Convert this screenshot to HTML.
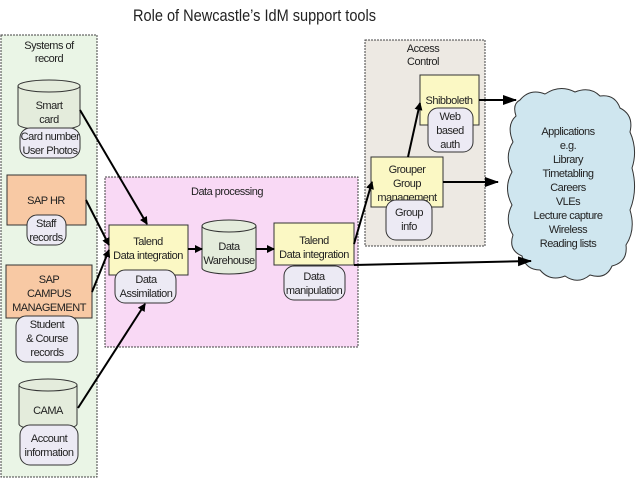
<!DOCTYPE html>
<html><head><meta charset="utf-8"><style>
html,body{margin:0;padding:0;background:#fff}
svg text{font-family:"Liberation Sans",sans-serif;fill:#222;letter-spacing:-0.5px}
</style></head><body>
<svg width="638" height="478" viewBox="0 0 638 478" xmlns="http://www.w3.org/2000/svg">
<defs><marker id="a" markerWidth="8" markerHeight="8" refX="7" refY="4" orient="auto" markerUnits="userSpaceOnUse"><path d="M0,0 L8,4 L0,8 z" fill="#000"/></marker>
<marker id="b" markerWidth="14" markerHeight="10" refX="13" refY="5" orient="auto" markerUnits="userSpaceOnUse"><path d="M0,0 L14,5 L0,10 z" fill="#000"/></marker></defs>
<text x="133" y="21" font-size="17" textLength="243" lengthAdjust="spacingAndGlyphs" style="letter-spacing:0">Role of Newcastle’s IdM support tools</text>
<!-- containers -->
<rect x="1" y="35" width="96" height="442" fill="#eaf5e6" stroke="#444" stroke-dasharray="2,1"/>
<text x="49" y="49" font-size="11" text-anchor="middle">Systems of</text>
<text x="49" y="62" font-size="11" text-anchor="middle">record</text>
<rect x="105" y="177" width="253" height="170" fill="#f9d9f5" stroke="#444" stroke-dasharray="2,1"/>
<text x="227" y="195" font-size="11" text-anchor="middle">Data processing</text>
<rect x="365" y="40" width="120" height="206" fill="#ede9e3" stroke="#444" stroke-dasharray="2,1"/>
<text x="423" y="52" font-size="11" text-anchor="middle">Access</text>
<text x="423" y="65" font-size="11" text-anchor="middle">Control</text>
<!-- cylinders -->
<g fill="#e4ecdc" stroke="#333" stroke-width="1">
<path d="M18,86 V124 A31,6 0 0 0 80,124 V86"/><ellipse cx="49" cy="86" rx="31" ry="6"/>
<path d="M19,385 V424 A29,6 0 0 0 77,424 V385"/><ellipse cx="48" cy="385" rx="29" ry="6"/>
<path d="M202,226 V268 A27,6 0 0 0 256,268 V226"/><ellipse cx="229" cy="226" rx="27" ry="6"/>
</g>
<g font-size="11" text-anchor="middle">
<text x="49" y="109">Smart</text><text x="49" y="123">card</text>
<text x="48" y="414">CAMA</text>
<text x="229" y="250">Data</text><text x="229" y="264">Warehouse</text>
</g>
<!-- orange -->
<rect x="7" y="175" width="79" height="50" fill="#f8c9a4" stroke="#333"/>
<text x="46" y="204" font-size="11" text-anchor="middle">SAP HR</text>
<rect x="6" y="265" width="86" height="53" fill="#f8c9a4" stroke="#333"/>
<g font-size="11" text-anchor="middle"><text x="49" y="283">SAP</text><text x="49" y="297">CAMPUS</text><text x="49" y="311">MANAGEMENT</text></g>
<!-- yellow -->
<g fill="#fbf8c4" stroke="#333">
<rect x="109" y="225" width="79" height="50"/>
<rect x="274" y="223" width="80" height="42"/>
<rect x="420" y="75" width="59" height="50"/>
<rect x="371" y="157" width="72" height="50"/>
</g>
<g font-size="11" text-anchor="middle">
<text x="148" y="245">Talend</text><text x="148" y="259">Data integration</text>
<text x="314" y="244">Talend</text><text x="314" y="258">Data integration</text>
<text x="449" y="104">Shibboleth</text>
<text x="407" y="173">Grouper</text><text x="407" y="187">Group</text><text x="407" y="201">management</text>
</g>
<!-- pills -->
<g fill="#eceaf4" stroke="#333">
<rect x="20" y="128" width="60" height="30" rx="10"/>
<rect x="27" y="215" width="39" height="30" rx="10"/>
<rect x="16" y="316" width="62" height="46" rx="10"/>
<rect x="20" y="425" width="58" height="40" rx="10"/>
<rect x="115" y="270" width="61" height="33" rx="10"/>
<rect x="284" y="266" width="61" height="34" rx="10"/>
<rect x="428" y="108" width="45" height="44" rx="10"/>
<rect x="386" y="200" width="46" height="40" rx="10"/>
</g>
<g font-size="11" text-anchor="middle">
<text x="50" y="140">Card number</text><text x="50" y="154">User Photos</text>
<text x="46" y="227">Staff</text><text x="46" y="241">records</text>
<text x="47" y="328">Student</text><text x="47" y="342">&amp; Course</text><text x="47" y="356">records</text>
<text x="49" y="442">Account</text><text x="49" y="456">information</text>
<text x="146" y="283">Data</text><text x="146" y="297">Assimilation</text>
<text x="314" y="280">Data</text><text x="314" y="294">manipulation</text>
<text x="450" y="120">Web</text><text x="450" y="134">based</text><text x="450" y="148">auth</text>
<text x="409" y="216">Group</text><text x="409" y="230">info</text>
</g>
<!-- cloud -->
<path d="M520,100 Q530,88 545,94 Q560,84 575,92 Q590,86 600,96 Q615,94 620,108 Q634,115 630,132 Q638,150 632,168 Q638,190 630,210 Q636,230 626,245 Q628,262 612,266 Q606,280 590,275 Q578,285 565,276 Q550,282 540,270 Q526,270 522,256 Q508,250 513,235 Q504,220 512,205 Q503,188 512,172 Q504,156 513,142 Q506,125 516,116 Q512,104 520,100 Z" fill="#cfe6ef" stroke="#333"/>
<g font-size="11" text-anchor="middle">
<text x="568" y="135">Applications</text><text x="568" y="149">e.g.</text><text x="568" y="163">Library</text>
<text x="568" y="177">Timetabling</text><text x="568" y="191">Careers</text><text x="568" y="205">VLEs</text>
<text x="568" y="219">Lecture capture</text><text x="568" y="233">Wireless</text><text x="568" y="247">Reading lists</text>
</g>
<!-- arrows -->
<g stroke="#000" stroke-width="2" fill="none">
<line x1="80" y1="110" x2="147" y2="224" marker-end="url(#a)"/>
<line x1="86" y1="200" x2="109" y2="245" marker-end="url(#a)"/>
<line x1="92" y1="292" x2="109" y2="250" marker-end="url(#a)"/>
<line x1="78" y1="408" x2="145" y2="304" marker-end="url(#a)"/>
<line x1="188" y1="249" x2="202" y2="249" marker-end="url(#a)"/>
<line x1="256" y1="249" x2="274" y2="249" marker-end="url(#a)"/>
<line x1="354" y1="244" x2="372" y2="182" marker-end="url(#a)"/>
<line x1="408" y1="157" x2="420" y2="103" marker-end="url(#a)"/>
<line x1="479" y1="100" x2="516" y2="100" marker-end="url(#b)"/>
<line x1="443" y1="182" x2="498" y2="182" marker-end="url(#b)"/>
<line x1="354" y1="265" x2="531" y2="261" marker-end="url(#b)"/>
</g>
</svg>
</body></html>
